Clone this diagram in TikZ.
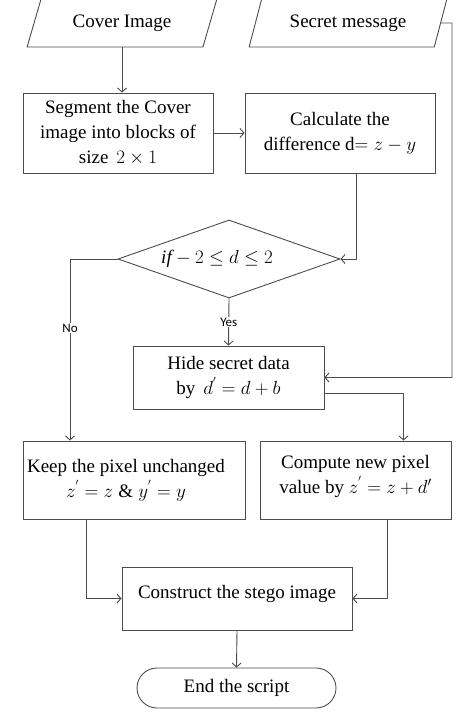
\RequirePackage{fix-cm}
\documentclass[tikz,border=0pt]{standalone}
\usepackage{fontspec}
\setmainfont{Liberation Serif}
\newfontfamily\lblfont{Carlito}
\usetikzlibrary{shapes.geometric,shapes.misc,arrows.meta}
\begin{document}
\begin{tikzpicture}[x=1pt,y=-1pt,
  line width=0.9pt,
  every node/.style={font=\fontsize{19}{25}\selectfont, text=black},
  box/.style={draw=black!70, rectangle, align=center, inner sep=2pt},
  para/.style={draw=black!70, trapezium, trapezium left angle=63, trapezium right angle=117,
     trapezium stretches=true, inner sep=0pt},
  deci/.style={draw=black!70, diamond, aspect=2.85, inner sep=0pt},
  term/.style={draw=black!70, rounded rectangle, inner sep=0pt},
  conn/.style={draw=black!70, -{Straight Barb[length=4pt,width=9pt]}},
  lbl/.style={fill=white, inner sep=1pt, font=\lblfont\fontsize{13}{15}\selectfont}]
\useasboundingbox (0,0) rectangle (474,719);

\node[para, minimum width=190, minimum height=48] (cover) at (122,23) {Cover Image};
\node[para, minimum width=198, minimum height=48] (secret) at (348,23) {Secret message};

\node[box, minimum width=190, minimum height=80] (seg) at (118,133)
  {Segment the Cover\\image into blocks of\\size \,$2\times 1$};
\node[box, minimum width=190, minimum height=80] (calc) at (340,133)
  {Calculate the\\difference d$=z-y$};

\node[deci, minimum width=222, minimum height=78] (dia) at (229,259)
  {\hspace*{-24pt}$\mathit{if}-2\le d\le 2$};

\node[box, minimum width=191, minimum height=63] (hide) at (228.5,377.5)
  {Hide secret data\\by \,$d^{'}=d+b$};

\node[box, minimum width=222, minimum height=78] (keep) at (134,480)
  {\hspace*{-16pt}Keep the pixel unchanged\\\hspace*{-16pt}$z^{'}=z\;\&\;y^{'}=y$};
\node[box, minimum width=191, minimum height=78] (comp) at (355.5,480)
  {Compute new pixel\\value by $z^{'}=z+d'$\\[-14pt]\mbox{}};

\node[box, minimum width=230, minimum height=63] (cons) at (237,598.5)
  {Construct the stego image\\[-12pt]\mbox{}};

\node[term, minimum width=199, minimum height=40] (end) at (236.5,688) {End the script};

\coordinate (calcout) at ([xshift=16pt]calc.south);
\coordinate (keepin) at ([xshift=-64pt]keep.north);
\coordinate (hideout) at ([yshift=-16pt]hide.east);
\coordinate (compin) at ([xshift=48pt]comp.north);
\coordinate (keepout) at ([xshift=-48pt]keep.south);
\coordinate (compout) at ([xshift=31.5pt]comp.south);
\coordinate (secx) at (452,23);

\draw[conn] (cover.south) -- (cover.south |- seg.north);
\draw[conn] (seg.east) -- (calc.west);
\draw[conn] (calcout) |- (dia.east);
\draw[conn] (dia.west) -| node[lbl, pos=0.69] {No} (keepin);
\draw[conn] (dia.south) -- node[lbl, pos=0.5] {Yes} (hide.north);
\draw[conn] (secret.east) -- (secx) |- (hide.east);
\draw[conn] (hideout) -| (compin);
\draw[conn] (keepout) |- (cons.west);
\draw[conn] (compout) |- (cons.east);
\draw[conn] (cons.south) -- (end.north);
\end{tikzpicture}
\end{document}
